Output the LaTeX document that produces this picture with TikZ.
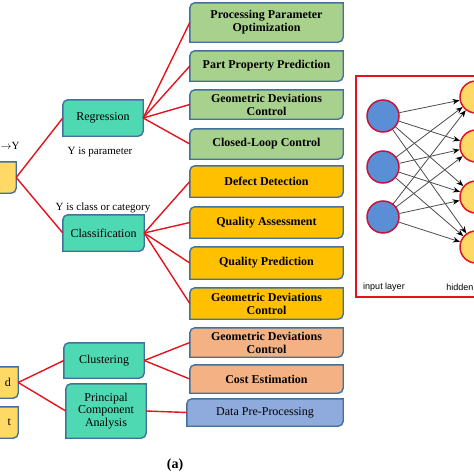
\documentclass[tikz,border=0pt]{standalone}
\usepackage{fontspec}
\setmainfont{Liberation Serif}
\newfontfamily\nnfont{Liberation Sans}
\usetikzlibrary{calc,backgrounds,arrows.meta}

\definecolor{boxline}{HTML}{41719C}
\definecolor{tealbox}{HTML}{4FD9B2}
\definecolor{greenbox}{HTML}{A9D18E}
\definecolor{orangebox}{HTML}{FFC000}
\definecolor{salmonbox}{HTML}{F4B183}
\definecolor{bluebox}{HTML}{8FAADC}
\definecolor{yellowbox}{HTML}{FFD966}
\definecolor{wire}{HTML}{E3141E}
\definecolor{inblue}{HTML}{5B8FD5}
\definecolor{inring}{HTML}{C8143C}

\tikzset{
  mbox/.style={inner sep=0pt, align=center, font=\fontsize{12}{12.5}\selectfont},
  rbox/.style={mbox, minimum width=153pt, font=\fontsize{12}{13}\selectfont\bfseries},
  stub/.style={mbox, minimum width=78pt, minimum height=31pt, text width=64pt, align=right},
  link/.style={draw=wire, line width=1.4pt},
  note/.style={font=\fontsize{11}{12}\selectfont},
  neuron/.style={circle, minimum size=32pt, inner sep=0pt, line width=1.5pt},
  synapse/.style={draw=black!70, line width=0.8pt, -{Stealth[length=7pt,width=5.5pt,black]}},
  nnlbl/.style={font=\nnfont\fontsize{9}{10}\selectfont, inner sep=0pt}
}

% box with round top-left and bottom-right corners
\newcommand{\rndbox}[2]{%
  \draw[draw=boxline, line width=1.4pt, fill=#2]
    (#1.south west) -- ([yshift=-5pt]#1.north west) arc (180:90:5pt)
    -- (#1.north east) -- ([yshift=5pt]#1.south east) arc (0:-90:5pt) -- cycle;}

\begin{document}
\begin{tikzpicture}[x=1pt,y=-1pt]
\useasboundingbox (0,0) rectangle (474,474);
\clip (0,0) rectangle (474,474);

% left column (cut off)
\node[mbox, minimum width=76pt, minimum height=31pt] (src) at (-22,177.5) {};
\node[note, anchor=west, inner sep=0pt] (xy) at (0.5,146) {$\rightarrow$Y};
\node[stub] (uns) at (-21,382.5) {d};
\node[stub] (oth) at (-21,422.5) {t};

% middle column
\node[mbox, minimum width=80pt, minimum height=36pt] (reg) at (103,118) {Regression};
\node[mbox, minimum width=81pt, minimum height=36pt] (cls) at (103.5,233) {Classification};
\node[mbox, minimum width=80pt, minimum height=35pt] (clu) at (104,360.5) {Clustering};
\node[mbox, minimum width=80pt, minimum height=54pt] (pca) at (106,411) {Principal\\Component\\Analysis};
\node[note] (ypar) at (100,152) {Y is parameter};
\node[note] (ycls) at (103,208) {Y is class or category};

% right column
\foreach \n/\y/\h/\t in {p1/22.5/39/{Processing Parameter\\Optimization},
    p2/66/30/{Part Property Prediction}, p3/104.5/29/{Geometric Deviations\\Control},
    p4/144/30/{Closed-Loop Control}, c1/181.5/31/{Defect Detection},
    c2/222.5/31/{Quality Assessment}, c3/263/32/{Quality Prediction},
    c4/303.5/31/{Geometric Deviations\\Control}, u1/342.5/29/{Geometric Deviations\\Control},
    u2/379/28/{Cost Estimation}}
  \node[rbox, minimum height=\h pt] (\n) at (266.5,\y) {\t};
\node[mbox, minimum width=156pt, minimum height=27pt] (d1) at (265,412.5) {Data Pre-Processing};

\begin{scope}[on background layer]
\foreach \n/\c in {src/yellowbox, uns/yellowbox, oth/yellowbox,
    reg/tealbox, cls/tealbox, clu/tealbox, pca/tealbox,
    p1/greenbox, p2/greenbox, p3/greenbox, p4/greenbox,
    c1/orangebox, c2/orangebox, c3/orangebox, c4/orangebox,
    u1/salmonbox, u2/salmonbox, d1/bluebox}
  \rndbox{\n}{\c};
\end{scope}

% connectors
\foreach \t in {reg,cls} \draw[link] (src.east) -- (\t.west);
\foreach \t in {clu,pca} \draw[link] (uns.east) -- (\t.west);
\foreach \t in {p1,p2,p3,p4} \draw[link] (reg.east) -- (\t.west);
\foreach \t in {c1,c2,c3,c4} \draw[link] (cls.east) -- (\t.west);
\foreach \t in {u1,u2} \draw[link] (clu.east) -- (\t.west);
\draw[link] (pca.east) -- (d1.west);

% network panel
\draw[wire, line width=1.4pt] (356,76) rectangle (490,297);
\foreach \i/\y in {1/116,2/167,3/217}
  \node[neuron, draw=inring, fill=inblue] (i\i) at (383,\y) {};
\foreach \h/\y in {1/97,2/146,3/197,4/247}
  \node[neuron, draw=wire, fill=yellowbox] (h\h) at (476,\y) {};
\foreach \i in {1,2,3}
  \foreach \h in {1,...,4}
    \draw[synapse] (i\i) -- (h\h);
\node[nnlbl] (inl) at (384,287) {input layer};
\node[nnlbl, anchor=east] (hdl) at (473.5,287) {hidden};

\node[font=\fontsize{14}{14}\selectfont\bfseries] (figa) at (175,465) {(a)};
\end{tikzpicture}
\end{document}
